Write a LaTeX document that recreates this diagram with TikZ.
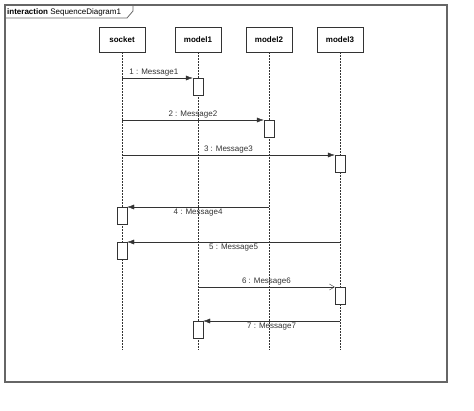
\documentclass[tikz,border=0pt]{standalone}
\usepackage{fontspec}
\setmainfont{Liberation Sans}
\usetikzlibrary{calc, positioning, arrows.meta}

\tikzset{
  head/.style={draw=black!80, fill=white, minimum width=46pt, minimum height=25pt, font=\bfseries\footnotesize, inner sep=0pt},
  actbox/.style={draw=black!80, fill=white, minimum width=10pt, minimum height=17pt, anchor=north, inner sep=0pt},
  lifeline/.style={black!80, dash pattern=on 1.5pt off 1.5pt},
  msg/.style={black!80, -{Latex[length=7pt, width=5pt]}},
  replymsg/.style={black!80, -{Straight Barb[length=5pt, width=6pt]}},
  msglabel/.style={font=\footnotesize, inner sep=1.5pt}
}

\begin{document}
\begin{tikzpicture}[x=1pt, y=1pt]
                \useasboundingbox (0,0) rectangle (474,-410);

                % Frame
                \draw[black!60, line width=1.1pt] (5,-5) rectangle (447,-382);
                \draw[black!60, line width=0.8pt] (5,-18) -- (127,-18) -- (133,-11) -- (133,-5);
                \node[anchor=west, font=\footnotesize, inner sep=0pt] (frametitle) at (7,-12) {\textbf{interaction} SequenceDiagram1};

                % Lifeline heads
                \node[head] (socket) at (122,-39.5) {socket};
                \node[head] (model1) at (198,-39.5) {model1};
                \node[head] (model2) at (269,-39.5) {model2};
                \node[head] (model3) at (340,-39.5) {model3};

                % Lifelines
                \foreach \n in {socket, model1, model2, model3} {
                    \coordinate (\n end) at ($(\n.south)+(0,-298)$);
                    \draw[lifeline] (\n.south) -- (\n end);
                }

                % Activations
                \node[actbox] (act1) at (198,-78) {};
                \node[actbox] (act2) at (269,-120) {};
                \node[actbox] (act3) at (340,-155) {};
                \node[actbox] (act4) at (122,-207) {};
                \node[actbox] (act5) at (122,-242) {};
                \node[actbox] (act6) at (340,-287) {};
                \node[actbox] (act7) at (198,-321) {};

                % Messages
                \draw[msg] (socket |- act1.north) -- (act1.north west) node[msglabel, above, pos=0.45] {1 : Message1};
                \draw[msg] (socket |- act2.north) -- (act2.north west) node[msglabel, above, pos=0.5] {2 : Message2};
                \draw[msg] (socket |- act3.north) -- (act3.north west) node[msglabel, above, pos=0.5] {3 : Message3};
                \draw[msg] (model2 |- act4.north) -- (act4.north east) node[msglabel, below, pos=0.5] {4 : Message4};
                \draw[msg] (model3 |- act5.north) -- (act5.north east) node[msglabel, below, pos=0.5] {5 : Message5};
                \draw[replymsg] (model1 |- act6.north) -- (act6.north west) node[msglabel, above, pos=0.5] {6 : Message6};
                \draw[msg] (model3 |- act7.north) -- (act7.north east) node[msglabel, below, pos=0.5] {7 : Message7};
            \end{tikzpicture}
\end{document}
